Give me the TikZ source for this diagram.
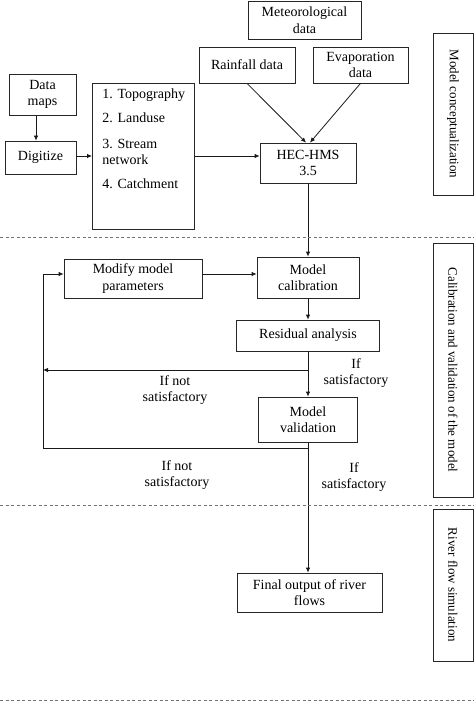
\documentclass[tikz,border=0pt]{standalone}
\usepackage{fontspec}
\setmainfont{Liberation Serif}
\usetikzlibrary{arrows.meta}

\begin{document}
\begin{tikzpicture}[x=1pt, y=-1pt,
    box/.style={draw=black!85, line width=0.8pt, align=center, inner sep=2pt, font=\fontsize{14}{16.5}\selectfont},
    side/.style={draw=black!85, line width=0.9pt, rotate=-90, minimum height=40pt, inner sep=2pt, font=\fontsize{13}{15}\selectfont},
    flow/.style={-{Latex[length=5pt, width=4.5pt]}, line width=0.8pt, draw=black!90},
    link/.style={line width=0.8pt, draw=black!90},
    cond/.style={align=center, inner sep=1pt, font=\fontsize{14}{16.5}\selectfont},
    sep/.style={draw=black!55, line width=0.8pt, dash pattern=on 3pt off 2.5pt}
  ]
  \useasboundingbox (0,0) rectangle (474,703);

  \node[box, minimum width=113pt, minimum height=38pt] (meteo) at (304.5,20) {Meteorological\\data};
  \node[box, minimum width=96pt, minimum height=36pt] (rain) at (247,65) {Rainfall data};
  \node[box, minimum width=95pt, minimum height=36pt] (evap) at (360.5,65) {Evaporation\\data};
  \node[box, minimum width=67pt, minimum height=41pt] (maps) at (42.5,94.5) {Data\\maps};
  \node[box, minimum width=71pt, minimum height=33pt] (digitize) at (40.5,157.5) {Digitize};
  \node[box, anchor=north west, inner xsep=4pt, inner ysep=0pt] (layers) at (92,83)
    {\parbox[t][146pt][t]{94pt}{\vspace*{5pt}\raggedright\leftskip=6pt 1. Topography\\[7.5pt] 2. Landuse\\[9.5pt] 3. Stream\\ network\\[7.5pt] 4. Catchment}};
  \node[box, minimum width=96pt, minimum height=40pt] (hec) at (308,163) {HEC-HMS\\3.5};

  \node[box, minimum width=138pt, minimum height=39pt] (modify) at (133,278.5) {Modify model\\parameters};
  \node[box, minimum width=102pt, minimum height=41pt] (calib) at (308,277.5) {Model\\calibration};
  \node[box, minimum width=143pt, minimum height=31pt] (resid) at (308,335.5) {Residual analysis};
  \node[box, minimum width=99pt, minimum height=45pt] (valid) at (308,419.5) {Model\\validation};
  \node[box, minimum width=145pt, minimum height=39pt] (final) at (309.5,592.5) {Final output of river\\flows};

  \node[side, minimum width=162pt] (concept) at (453,114) {Model conceptualization};
  \node[side, minimum width=254pt] (calval) at (453,370) {Calibration and validation of the model};
  \node[side, minimum width=152pt] (river) at (453,585) {River flow simulation};

  \coordinate (split1) at (308,370);
  \coordinate (loopmid) at (43,370);
  \coordinate (split2) at (308,448);
  \coordinate (loopbot) at (43,448);

  \draw[flow] (maps.south -| 36,0) -- (digitize.north -| 36,0);
  \draw[flow] (digitize.east |- 0,156) -- (layers.west |- 0,156);
  \draw[flow] (layers.east |- 0,156) -- (hec.west |- 0,156);
  \draw[flow] (rain.south) -- ([xshift=-2pt]hec.north);
  \draw[flow] (evap.south) -- ([xshift=2pt]hec.north);
  \draw[flow] (hec) -- (calib);
  \draw[flow] (modify.east |- 0,274) -- (calib.west |- 0,274);
  \draw[flow] (calib) -- (resid);
  \draw[flow] (resid) -- (valid);
  \draw[flow] (split1) -- (loopmid);
  \draw[flow] (split2) -- (loopbot) |- (modify.west |- 0,274);
  \draw[flow] (valid.south) -- (valid.south |- final.north);

  \node[cond] (notsat1) at (175,390) {If not\\satisfactory};
  \node[cond] (sat1) at (356,373) {If\\satisfactory};
  \node[cond] (notsat2) at (177,475) {If not\\satisfactory};
  \node[cond] (sat2) at (354,477) {If\\satisfactory};

  \draw[sep] (0,237) -- (474,237);
  \draw[sep] (0,505) -- (474,505);
  \draw[sep] (0,700) -- (474,700);
\end{tikzpicture}
\end{document}
